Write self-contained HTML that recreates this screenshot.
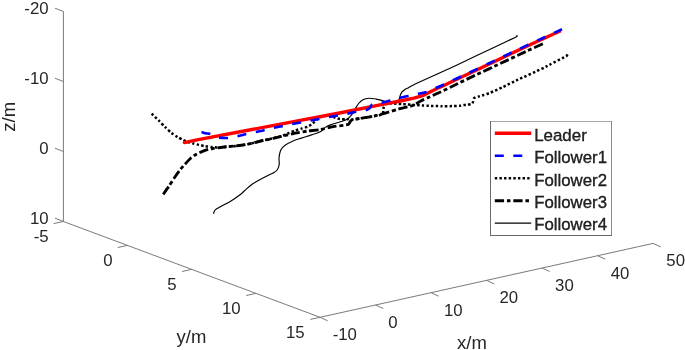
<!DOCTYPE html>
<html lang="en"><head><meta charset="utf-8"><title>Trajectories</title>
<style>html,body{margin:0;padding:0;background:#fff;}body{width:685px;height:350px;overflow:hidden;}svg{display:block;}text{font-family:"Liberation Sans", Arial, Helvetica, sans-serif;fill:#262626;}</style>
</head><body>
<svg width="685" height="350" viewBox="0 0 685 350">
<rect x="0" y="0" width="685" height="350" fill="#ffffff"/>
<g fill="none" stroke="#7a7a7a" stroke-width="1">
<path d="M63.4,11.5 L63.4,221.5 L320.1,317.3 L653.1,243.4"/>
<path d="M63.4,11.5 l-8.4,-3.3"/>
<path d="M63.4,81.5 l-8.4,-3.3"/>
<path d="M63.4,151.5 l-8.4,-3.3"/>
<path d="M63.4,221.5 l-8.4,-3.3"/>
<path d="M63.4,221.5 l-9.8,2.1"/>
<path d="M127.6,245.4 l-9.8,2.1"/>
<path d="M191.8,269.4 l-9.8,2.1"/>
<path d="M255.9,293.4 l-9.8,2.1"/>
<path d="M320.1,317.3 l-9.8,2.1"/>
<path d="M320.1,317.3 l7.6,3.5"/>
<path d="M375.6,305.0 l7.6,3.5"/>
<path d="M431.1,292.7 l7.6,3.5"/>
<path d="M486.6,280.4 l7.6,3.5"/>
<path d="M542.1,268.0 l7.6,3.5"/>
<path d="M597.6,255.7 l7.6,3.5"/>
<path d="M653.1,243.4 l7.6,3.5"/>
</g>
<g font-size="16.8">
<text x="48.6" y="13.8" text-anchor="end">-20</text>
<text x="48.6" y="83.8" text-anchor="end">-10</text>
<text x="48.6" y="153.8" text-anchor="end">0</text>
<text x="48.6" y="223.8" text-anchor="end">10</text>
<text x="48.6" y="242.0" text-anchor="end">-5</text>
<text x="112.6" y="265.9" text-anchor="end">0</text>
<text x="176.6" y="289.9" text-anchor="end">5</text>
<text x="240.6" y="313.9" text-anchor="end">10</text>
<text x="304.6" y="337.8" text-anchor="end">15</text>
<text x="332.7" y="340.3">-10</text>
<text x="388.3" y="328.0">0</text>
<text x="443.9" y="315.7">10</text>
<text x="499.5" y="303.3">20</text>
<text x="555.1" y="291.0">30</text>
<text x="610.7" y="278.7">40</text>
<text x="666.3" y="266.4">50</text>
</g>
<g font-size="18.5">
<text x="176.5" y="343.1">y/m</text>
<text x="457.0" y="348.5">x/m</text>
<text transform="translate(15.3,131.7) rotate(-90)">z/m</text>
</g>
<g fill="none" stroke-linejoin="round">
<path d="M213.70,213.90 C213.75,213.58 213.68,212.72 214.00,212.00 C214.32,211.28 214.62,210.43 215.60,209.60 C216.58,208.77 217.33,208.43 219.90,207.00 C222.47,205.57 227.70,203.00 231.00,201.00 C234.30,199.00 237.45,196.70 239.70,195.00 C241.95,193.30 243.00,192.13 244.50,190.80 C246.00,189.47 247.32,188.17 248.70,187.00 C250.08,185.83 251.35,184.80 252.80,183.80 C254.25,182.80 255.70,181.97 257.40,181.00 C259.10,180.03 261.07,179.00 263.00,178.00 C264.93,177.00 267.17,175.90 269.00,175.00 C270.83,174.10 272.58,173.52 274.00,172.60 C275.42,171.68 276.63,170.85 277.50,169.50 C278.37,168.15 278.95,166.25 279.20,164.50 C279.45,162.75 278.93,160.75 279.00,159.00 C279.07,157.25 279.23,155.62 279.60,154.00 C279.97,152.38 280.28,150.77 281.20,149.30 C282.12,147.83 283.20,146.55 285.10,145.20 C287.00,143.85 289.88,142.38 292.60,141.20 C295.32,140.02 298.25,139.15 301.40,138.10 C304.55,137.05 308.35,135.95 311.50,134.90 C314.65,133.85 318.00,133.05 320.30,131.80 C322.60,130.55 323.62,128.55 325.30,127.40 C326.98,126.25 327.88,125.85 330.40,124.90 C332.92,123.95 337.68,122.58 340.40,121.70 C343.12,120.82 345.02,120.53 346.70,119.60 C348.38,118.67 349.45,117.22 350.50,116.10 C351.55,114.98 352.17,114.17 353.00,112.90 C353.83,111.63 354.57,110.07 355.50,108.50 C356.43,106.93 357.35,104.97 358.60,103.50 C359.85,102.03 361.32,100.57 363.00,99.70 C364.68,98.83 366.50,98.40 368.70,98.30 C370.90,98.20 373.90,98.72 376.20,99.10 C378.50,99.48 380.82,100.15 382.50,100.60 C384.18,101.05 384.72,101.43 386.30,101.80 C387.88,102.17 390.13,102.80 392.00,102.80 C393.87,102.80 396.27,102.52 397.50,101.80 C398.73,101.08 398.95,99.55 399.40,98.50 C399.85,97.45 399.82,96.52 400.20,95.50 C400.58,94.48 401.02,93.32 401.70,92.40 C402.38,91.48 403.25,90.75 404.30,90.00 C405.35,89.25 406.82,88.58 408.00,87.90 C409.18,87.22 410.02,86.62 411.40,85.90 C412.78,85.18 413.47,84.92 416.30,83.60 C419.13,82.28 423.45,80.27 428.40,78.00 C433.35,75.73 441.40,72.08 446.00,70.00 C450.60,67.92 447.67,69.43 456.00,65.50 C464.33,61.57 486.15,51.08 496.00,46.40 C505.85,41.72 511.67,39.07 515.10,37.40 C518.53,35.73 516.22,36.78 516.60,36.40 C516.98,36.02 517.27,35.32 517.40,35.10" stroke="#000" stroke-width="1.15"/>
<path d="M151.70,113.60 C152.54,114.43 157.34,119.14 158.90,120.70 C160.46,122.26 163.64,125.58 165.10,127.00 C166.56,128.42 169.93,131.72 171.40,132.90 C172.87,134.08 176.30,136.25 177.70,137.10 C179.10,137.95 182.31,139.65 183.40,140.20 C184.49,140.75 185.93,141.44 187.00,141.80 C188.07,142.16 191.21,142.94 192.60,143.30 C193.99,143.66 197.44,144.56 198.90,144.90 C200.36,145.24 203.64,145.95 205.10,146.20 C206.56,146.44 210.07,146.86 211.40,147.00 C212.73,147.14 215.03,147.40 216.50,147.40 C217.97,147.40 221.66,147.19 224.00,147.00 C226.34,146.81 233.66,146.16 236.60,145.80 C239.54,145.44 246.17,144.52 249.20,143.90 C252.23,143.28 259.58,141.21 262.60,140.50 C265.62,139.79 272.77,138.36 275.10,137.80 C277.43,137.24 280.99,136.26 282.60,135.70 C284.21,135.14 287.44,133.61 288.90,133.00 C290.36,132.39 293.64,131.01 295.10,130.50 C296.56,129.99 299.93,129.04 301.40,128.60 C302.87,128.16 306.52,127.19 307.70,126.70 C308.88,126.21 310.67,125.00 311.50,124.40 C312.33,123.81 314.10,122.25 314.80,121.60 C315.50,120.95 316.78,119.36 317.50,118.80 C318.22,118.24 319.89,117.17 321.00,116.80 C322.11,116.43 325.77,115.72 327.00,115.60 C328.23,115.48 330.52,115.54 331.50,115.80 C332.48,116.06 334.41,117.43 335.40,117.80 C336.39,118.17 338.83,118.83 340.00,119.00 C341.17,119.17 344.40,119.30 345.40,119.30 C346.40,119.30 347.77,118.97 348.60,119.00 C349.43,119.03 351.04,119.68 352.50,119.60 C353.96,119.52 359.50,118.56 361.10,118.30 C362.70,118.04 364.73,117.65 366.20,117.40 C367.67,117.16 371.80,116.57 373.70,116.20 C375.60,115.83 381.38,114.87 382.50,114.20 C383.62,113.53 383.15,111.34 383.30,110.50 C383.45,109.66 383.58,107.69 383.80,107.00 C384.02,106.31 384.71,105.00 385.20,104.60 C385.69,104.20 387.15,103.75 388.00,103.60 C388.85,103.45 391.46,103.28 392.50,103.30 C393.54,103.32 395.80,103.72 396.90,103.80 C398.00,103.88 400.84,103.94 401.90,104.00 C402.96,104.06 404.89,104.21 406.00,104.30 C407.11,104.39 410.20,104.72 411.40,104.80 C412.60,104.88 415.06,104.93 416.30,105.00 C417.54,105.07 420.53,105.31 422.00,105.40 C423.47,105.49 426.64,105.71 428.90,105.80 C431.16,105.89 438.70,106.17 441.40,106.20 C444.09,106.23 449.83,106.15 452.00,106.10 C454.17,106.05 458.37,105.96 460.00,105.80 C461.63,105.64 464.67,104.91 466.00,104.70 C467.33,104.49 470.58,104.33 471.40,104.00 C472.22,103.67 472.70,102.58 473.00,101.90 C473.30,101.22 473.37,98.82 474.00,98.20 C474.63,97.58 477.35,96.95 478.40,96.60 C479.45,96.25 481.61,95.66 483.00,95.20 C484.39,94.75 487.98,93.65 490.30,92.70 C492.62,91.75 499.85,88.53 502.90,87.10 C505.94,85.66 511.84,82.55 516.40,80.40 C520.96,78.25 538.07,70.56 542.00,68.70 C545.93,66.84 547.55,65.83 550.10,64.50 C552.65,63.17 561.99,58.29 563.90,57.30 C565.81,56.31 566.06,56.38 566.50,56.00 C566.94,55.62 567.56,54.23 567.70,54.00" stroke="#000" stroke-width="2.5" stroke-dasharray="2.4 2.23"/>
<path d="M163.20,194.40 C163.96,193.31 167.31,188.56 168.90,186.20 C170.49,183.84 173.49,179.03 175.10,176.70 C176.71,174.37 179.68,170.37 181.00,168.70 C182.32,167.03 183.79,165.52 185.00,164.20 C186.21,162.88 188.59,160.12 190.10,158.80 C191.61,157.48 194.30,155.42 196.30,154.30 C198.30,153.18 202.91,151.17 205.10,150.40 C207.29,149.63 210.18,148.95 212.70,148.50 C215.22,148.05 220.81,147.36 224.00,147.00 C227.19,146.64 233.24,146.21 236.60,145.80 C239.96,145.39 245.73,144.61 249.20,143.90 C252.67,143.19 259.83,141.14 262.60,140.50 C265.37,139.86 268.33,139.46 270.00,139.10 C271.67,138.74 273.42,138.20 275.10,137.80 C276.78,137.40 279.93,136.73 282.60,136.10 C285.27,135.47 291.75,133.77 295.10,133.10 C298.45,132.43 304.34,131.57 307.70,131.10 C311.06,130.63 316.94,130.19 320.30,129.60 C323.66,129.01 329.67,127.29 332.90,126.70 C336.13,126.11 342.42,125.53 344.50,125.20 C346.58,124.87 347.70,124.73 348.50,124.20 C349.30,123.67 349.97,121.81 350.50,121.20 C351.03,120.59 351.09,119.99 352.50,119.60 C353.91,119.21 358.27,118.75 361.10,118.30 C363.93,117.85 370.34,116.93 373.70,116.20 C377.06,115.47 382.94,113.77 386.30,112.80 C389.66,111.83 395.55,109.81 398.90,108.90 C402.25,107.99 409.08,106.71 411.40,106.00 C413.72,105.29 414.98,104.31 416.30,103.60 C417.62,102.89 419.54,101.58 421.30,100.70 C423.06,99.82 427.41,97.96 429.50,97.00 C431.59,96.04 435.60,94.13 437.00,93.50 C438.40,92.87 437.73,93.37 440.00,92.30 C442.27,91.23 449.33,87.71 454.00,85.45 C458.67,83.19 469.40,78.00 475.00,75.35 C480.60,72.70 489.20,68.74 496.00,65.55 C502.80,62.36 519.55,54.46 526.00,51.45 C532.45,48.44 541.95,44.13 544.40,43.00" stroke="#000" stroke-width="2.85" stroke-dasharray="9.3 2.7 3.9 2.77"/>
<path d="M184.4,142.6 L197.0,139.8 L244.0,131.0 L339.5,113.0 L380.0,104.9 L400.2,101.0 L413.8,98.2 L421.0,96.2 L425.0,94.6 L430.0,92.1 L436.1,89.0 L444.8,85.0 L461.6,77.0 L487.2,65.0 L516.6,51.0 L542.5,39.0 L560.8,30.8" stroke="#ff0000" stroke-width="3.4"/>
<circle cx="184.4" cy="142.6" r="1.7" fill="#ff0000" stroke="none"/>
<path d="M201.50,132.00 C202.02,132.16 204.24,132.96 205.40,133.20 C206.56,133.44 209.01,133.48 210.20,133.80 C211.39,134.12 213.21,135.11 214.30,135.60 C215.39,136.09 216.68,137.18 218.40,137.50 C220.12,137.82 224.77,138.16 227.20,138.00 C229.63,137.84 234.17,136.79 236.60,136.30 C239.03,135.81 242.89,134.87 245.40,134.30 C247.91,133.73 252.89,132.55 255.40,132.00 C257.91,131.45 261.84,130.75 264.20,130.20 C266.56,129.65 270.74,128.42 273.10,127.90 C275.46,127.38 279.46,126.81 281.90,126.30 C284.34,125.79 288.88,124.61 291.40,124.10 C293.92,123.59 298.29,122.98 300.80,122.50 C303.31,122.02 307.77,120.97 310.20,120.50 C312.63,120.03 316.56,119.45 319.00,119.00 C321.44,118.55 325.98,117.57 328.50,117.10 C331.02,116.63 335.39,115.96 337.90,115.50 C340.41,115.04 344.87,114.14 347.30,113.65 C349.73,113.16 353.67,112.26 356.10,111.80 C358.53,111.34 363.71,110.67 365.50,110.20 C367.29,109.73 368.66,109.03 369.50,108.30 C370.34,107.57 371.00,105.29 371.80,104.70 C372.60,104.11 374.23,104.15 375.50,103.90 C376.77,103.65 379.35,103.24 381.30,102.80 C383.25,102.36 387.67,101.25 390.10,100.60 C392.53,99.95 397.07,98.53 399.50,97.90 C401.93,97.27 405.95,96.42 408.30,95.90 C410.65,95.38 414.78,94.49 417.10,94.00 C419.42,93.51 423.29,92.97 425.70,92.20 C428.11,91.43 432.65,89.28 435.20,88.20 C437.75,87.12 441.28,85.70 444.80,84.10 C448.32,82.50 455.95,78.85 461.60,76.20 C467.25,73.55 479.87,67.67 487.20,64.20 C494.53,60.73 509.23,53.67 516.60,50.20 C523.97,46.73 536.45,40.99 542.50,38.20 C548.55,35.41 559.40,30.49 562.00,29.30" stroke="#0000ff" stroke-width="2.6" stroke-dasharray="9.1 9.57"/>
</g>
<rect x="490.5" y="121.5" width="121" height="114" fill="#ffffff" stroke="none"/>
<g fill="none" stroke-width="1" stroke-linecap="square">
<path d="M490.5,121.5 H611.5" stroke="#a6a6a6"/>
<path d="M611.5,121.5 V235.5" stroke="#8a8a8a"/>
<path d="M490.5,121.5 V235.5" stroke="#6a6a6a"/>
<path d="M490.5,235.5 H611.5" stroke="#6a6a6a"/>
</g>
<g fill="none">
<path d="M494.8,133.2 H531.2" stroke="#ff0000" stroke-width="3.6"/>
<path d="M494.8,155.7 H531.2" stroke="#0000ff" stroke-width="2.5" stroke-dasharray="9 9.5"/>
<path d="M494.8,178.3 H530" stroke="#000" stroke-width="2.5" stroke-dasharray="2.4 2.23"/>
<path d="M494.8,200.8 H531.2" stroke="#000" stroke-width="3" stroke-dasharray="9.3 2.85 3.5 2.85"/>
<path d="M494.8,223.0 H531.2" stroke="#000" stroke-width="1.25"/>
</g>
<g font-size="16.6" fill="#000">
<text x="534.2" y="140.6" fill="#000" stroke="#000" stroke-width="0.3" textLength="52.6" lengthAdjust="spacingAndGlyphs">Leader</text>
<text x="534.2" y="163.1" fill="#000" stroke="#000" stroke-width="0.3" textLength="72.8" lengthAdjust="spacingAndGlyphs">Follower1</text>
<text x="534.2" y="185.7" fill="#000" stroke="#000" stroke-width="0.3" textLength="72.8" lengthAdjust="spacingAndGlyphs">Follower2</text>
<text x="534.2" y="208.2" fill="#000" stroke="#000" stroke-width="0.3" textLength="72.8" lengthAdjust="spacingAndGlyphs">Follower3</text>
<text x="534.2" y="230.4" fill="#000" stroke="#000" stroke-width="0.3" textLength="72.8" lengthAdjust="spacingAndGlyphs">Follower4</text>
</g>
</svg>
</body></html>
